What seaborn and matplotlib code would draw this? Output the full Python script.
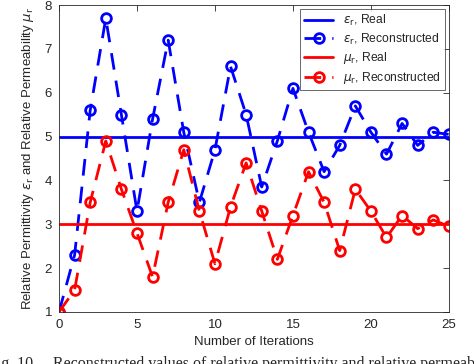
import numpy as np
import pandas as pd
import matplotlib
matplotlib.use("Agg")
import matplotlib.pyplot as plt
import seaborn as sns

# values
iterations = list(range(26))
eps_real = 5.0
mu_real = 3.0
eps_recon = [1.0, 2.3, 5.6, 7.7, 5.5, 3.3, 5.4, 7.2, 5.1, 3.5, 4.7, 6.6, 5.5,
             3.85, 4.9, 6.1, 5.1, 4.2, 4.8, 5.7, 5.1, 4.6, 5.3, 4.8, 5.1, 5.05]
mu_recon = [1.0, 1.5, 3.5, 4.9, 3.8, 2.8, 1.8, 3.5, 4.7, 3.3, 2.1, 3.4, 4.4,
            3.3, 2.2, 3.2, 4.2, 3.5, 2.4, 3.8, 3.3, 2.7, 3.2, 2.9, 3.1, 2.95]

df = pd.DataFrame({"iter": iterations, "eps": eps_recon, "mu": mu_recon})

sns.set_style("white")
plt.rcParams['font.family'] = ['Liberation Sans', 'DejaVu Sans']
plt.rcParams['mathtext.fontset'] = 'dejavusans'

fig = plt.figure(figsize=(4.74, 3.64), dpi=100)
ax = fig.add_axes([0.1245, 0.143, 0.8225, 0.843])

blue = (0, 0, 1)
red = (1, 0, 0)

ax.axhline(eps_real, color=blue, lw=2, label=r'$\epsilon_\mathrm{r}$, Real')
sns.lineplot(data=df, x="iter", y="eps", ax=ax, color=blue, lw=2,
             marker='o', markersize=7, markerfacecolor='none',
             markeredgecolor=blue, markeredgewidth=2,
             label=r'$\epsilon_\mathrm{r}$, Reconstructed')
ax.lines[-1].set_dashes([6, 4])
ax.axhline(mu_real, color=red, lw=2, label=r'$\mu_\mathrm{r}$, Real')
sns.lineplot(data=df, x="iter", y="mu", ax=ax, color=red, lw=2,
             marker='o', markersize=7, markerfacecolor='none',
             markeredgecolor=red, markeredgewidth=2,
             label=r'$\mu_\mathrm{r}$, Reconstructed')
ax.lines[-1].set_dashes([6, 4])

ax.set_xlim(0, 25)
ax.set_ylim(1, 8)
ax.set_xticks([0, 5, 10, 15, 20, 25])
ax.set_yticks(range(1, 9))
ax.tick_params(direction='in', top=True, right=True, length=4, width=0.6,
               colors='#262626', labelsize=9.5, pad=5)
for s in ax.spines.values():
    s.set_color('#262626')
    s.set_linewidth(0.6)

ax.set_xlabel("Number of Iterations", fontsize=9.5, color='#262626', labelpad=4)
ax.set_ylabel(r"Relative Permittivity $\epsilon_\mathrm{r}$ and Relative Permeability $\mu_\mathrm{r}$",
              fontsize=9.5, color='#262626', labelpad=6)

leg = ax.legend(loc='upper right', fontsize=8.7, handlelength=2.4, handletextpad=0.8,
                frameon=True, fancybox=False, edgecolor='#262626',
                borderaxespad=0.3, labelspacing=0.3, borderpad=0.35)
leg.get_frame().set_linewidth(0.6)

fig.text(-0.025, -0.022, "Fig. 10.    Reconstructed values of relative permittivity and relative permeability",
         family=['Liberation Serif', 'DejaVu Serif'], fontsize=11.5, ha='left', va='bottom')

fig.savefig("out.png", dpi=100)
